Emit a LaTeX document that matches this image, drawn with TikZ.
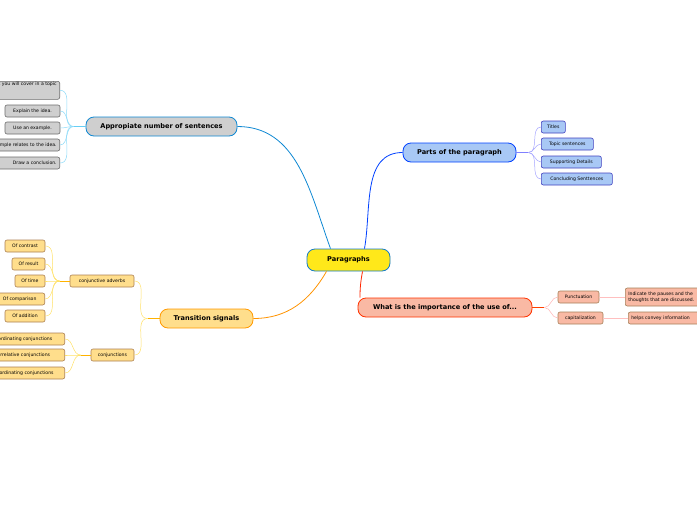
\documentclass[tikz,border=0pt]{standalone}
\usepackage{fontspec}
\setmainfont{DejaVu Sans}
\definecolor{gfill}{HTML}{CFCFCF}
\definecolor{bfill}{HTML}{A8C8F5}
\definecolor{yfill}{HTML}{FFDE8C}
\definecolor{rfill}{HTML}{F9B9A4}
\definecolor{pfill}{HTML}{FFE81A}
\begin{document}
\begin{tikzpicture}[x=1pt,y=-1pt,
  box/.style={draw,rounded corners=2pt,inner sep=0pt,font=\fontsize{4.6}{5.5}\selectfont,line width=0.6pt},
  big/.style={draw,rounded corners=8pt,inner sep=0pt,font=\bfseries\fontsize{6.6}{8}\selectfont,line width=0.8pt},
  gray/.style={box,fill=gfill,draw=gray!85!black},
  blue/.style={box,fill=bfill,draw=blue!50!gray},
  yel/.style={box,fill=yfill,draw=brown!70!gray},
  red/.style={box,fill=rfill,draw=brown!60!gray},
  lc/.style={line width=0.5pt},
]
\useasboundingbox (0,0) rectangle (697,520);
\clip (0,0) rectangle (697,520);
\node[big,fill=pfill,draw=cyan!60!blue,minimum width=83,minimum height=22] (P) at (348.5,260) {Paragraphs};
\node[big,fill=gfill,draw=cyan!70!blue,minimum width=151,minimum height=19] (A) at (161.5,126.5) {Appropiate number of sentences};
\node[big,fill=bfill,draw=blue!75!cyan,minimum width=113,minimum height=19] (B) at (459.5,152.5) {Parts of the paragraph};
\node[big,fill=yfill,draw=orange!80!yellow,minimum width=93,minimum height=19] (T) at (206.5,318.5) {Transition signals};
\node[big,fill=rfill,draw=red!60!orange,minimum width=174,minimum height=19] (I) at (445,307.5) {What is the importance of the use of...};

% gray children
\node[gray,minimum width=140,minimum height=18,text width=134,align=right,anchor=north east] (a1) at (60,81) {Tell what you will cover in a topic\\[5pt]\strut};
\node[gray,minimum width=55,minimum height=12] (a2) at (32.5,111) {Explain the idea.};
\node[gray,minimum width=55,minimum height=12] (a3) at (32.5,128) {Use an example.};
\node[gray,minimum width=140,minimum height=12,text width=134,align=right,anchor=east] (a4) at (60,145) {Tell how the example relates to the idea.};
\node[gray,minimum width=70,minimum height=12,text width=64,align=right,anchor=east] (a5) at (60,163) {Draw a conclusion.};
\foreach \c in {a1,a2,a3,a4,a5}
  \draw[lc,cyan!45] (A.west) ++(-12,0) to[out=180,in=0] (\c.east);
\draw[lc,cyan!60] (A.west) -- ++(-12,0);

% blue children
\node[blue,minimum width=24,minimum height=12,anchor=west] (b1) at (541,127) {Titles};
\node[blue,minimum width=52,minimum height=12,anchor=west] (b2) at (541,144) {Topic sentences};
\node[blue,minimum width=60,minimum height=12,anchor=west] (b3) at (541,162) {Supporting Details};
\node[blue,minimum width=71,minimum height=12,anchor=west] (b4) at (541,179) {Concluding Senttences};
\foreach \c in {b1,b2,b3,b4}
  \draw[lc,blue!35] (B.east) ++(12,0) to[out=0,in=180] (\c.west);
\draw[lc,blue!50] (B.east) -- ++(12,0);

% yellow
\node[yel,minimum width=64,minimum height=12] (c1) at (102,281) {conjunctive adverbs};
\node[yel,minimum width=43,minimum height=12] (c2) at (112.5,355) {conjunctions};
\node[yel,minimum width=40,minimum height=12] (d1) at (25,246) {Of contrast};
\node[yel,minimum width=33,minimum height=12] (d2) at (28.5,264) {Of result};
\node[yel,minimum width=30,minimum height=12] (d3) at (30,281) {Of time};
\node[yel,minimum width=50,minimum height=12,anchor=east] (d4) at (45,299) {Of comparison};
\node[yel,minimum width=40,minimum height=12] (d5) at (25,316) {Of addition};
\node[yel,minimum width=85,minimum height=12,anchor=east] (e1) at (65,339) {Coordinating conjunctions};
\node[yel,minimum width=85,minimum height=12,anchor=east] (e2) at (65,355) {Correlative conjunctions};
\node[yel,minimum width=85,minimum height=12,anchor=east] (e3) at (65,373) {Subordinating conjunctions};
\foreach \c in {c1,c2}
  \draw[lc,orange!40!yellow!60] (T.west) ++(-12,0) to[out=180,in=0] (\c.east);
\draw[lc,orange!60!yellow] (T.west) -- ++(-12,0);
\foreach \c in {d1,d2,d3,d4,d5}
  \draw[lc,orange!40!yellow!60] (c1.west) ++(-10,0) to[out=180,in=0] (\c.east);
\draw[lc,orange!60!yellow] (c1.west) -- ++(-10,0);
\foreach \c in {e1,e2,e3}
  \draw[lc,orange!40!yellow!60] (c2.west) ++(-10,0) to[out=180,in=0] (\c.east);
\draw[lc,orange!60!yellow] (c2.west) -- ++(-10,0);

% red
\node[red,minimum width=41,minimum height=12] (f1) at (578.5,297) {Punctuation};
\node[red,minimum width=45,minimum height=12] (f2) at (580.5,318) {capitalization};
\node[red,minimum width=110,minimum height=18,text width=104,align=left,anchor=west] (g1) at (625,297) {Indicate the pauses and the\\thoughts that are discussed.};
\node[red,minimum width=110,minimum height=12,text width=104,align=left,anchor=west] (g2) at (628,318) {helps convey information};
\foreach \c in {f1,f2}
  \draw[lc,red!30] (I.east) ++(12,0) to[out=0,in=180] (\c.west);
\draw[lc,red!50!orange] (I.east) -- ++(12,0);
\draw[lc,red!25] (f1.east) -- (g1.west);
\draw[lc,red!25] (f2.east) -- (g2.west);

% main connectors
\draw[line width=0.8pt,cyan!70!blue] ([xshift=-18pt]P.north) to[out=110,in=0] (A.east);
\draw[line width=0.8pt,blue!75!cyan] ([xshift=16pt]P.north) to[out=80,in=180] (B.west);
\draw[line width=0.8pt,orange!85!yellow] ([xshift=-22pt]P.south) to[out=-120,in=0] (T.east);
\draw[line width=0.8pt,red!70!orange] ([xshift=14pt]P.south) to[out=-100,in=90] ([xshift=-85pt]I.north);
\end{tikzpicture}
\end{document}
